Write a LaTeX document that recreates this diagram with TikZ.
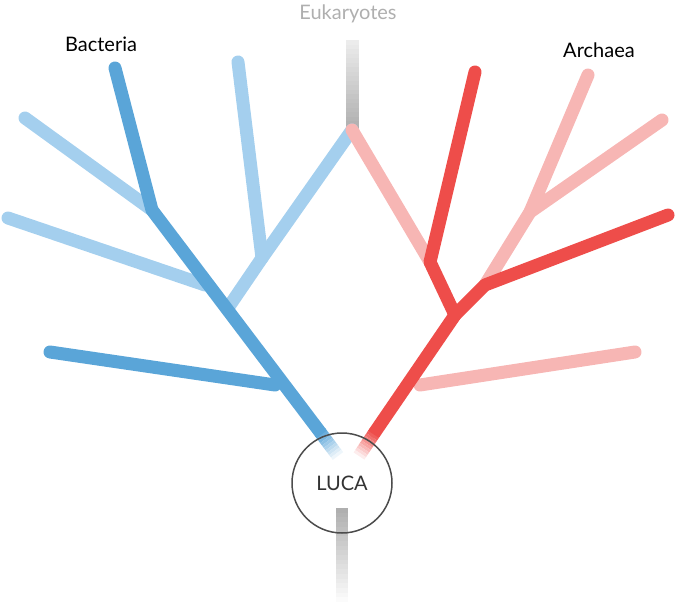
\documentclass[tikz,border=0pt]{standalone}
\usepackage{fontspec}
\setmainfont{Lato}
\begin{document}
\begin{tikzpicture}[x=1pt,y=-1pt,
  br/.style={line width=13pt,line cap=round,line join=round},
  lbl/.style={font=\fontsize{20}{24}\selectfont}]
\useasboundingbox (0,0) rectangle (685,608);
\definecolor{db}{HTML}{5AA5D8}\definecolor{lb}{HTML}{A4CFEE}
\definecolor{dr}{HTML}{EE4D4A}\definecolor{lr}{HTML}{F7B6B4}
\definecolor{gr}{HTML}{AFAFAF}
% eukaryote stem
\foreach \i in {0,...,19}{\pgfmathsetmacro\c{100-4*\i}
  \draw[line width=13pt,gr!\c!white] (352,{130-4.5*\i}) -- (352,{130-4.5*(\i+1)});}
% light blue
\draw[br,lb] (25,118) -- (152,210);
\draw[br,lb] (8,218) -- (205,285);
\draw[br,lb] (230,305) -- (262,258) -- (352,130);
\draw[br,lb] (238,62) -- (262,258);
% light red
\draw[br,lr] (352,130) -- (430,262);
\draw[br,lr] (485,285) -- (530,212) -- (588,75);
\draw[br,lr] (530,212) -- (662,120);
\draw[br,lr] (420,385) -- (635,352);
% dark blue
\draw[br,db] (115,68) -- (152,210) -- (320,432);
\draw[br,db] (50,352) -- (275,385);
% dark red
\draw[br,dr] (475,72) -- (430,262) -- (455,315);
\draw[br,dr] (375,432) -- (455,315) -- (485,285) -- (668,215);
% fades near LUCA
\foreach \i in {0,...,9}{\pgfmathsetmacro\c{100-10*\i}
  \draw[line width=13pt,db!\c!white] ({320+1.8*\i},{432+2.4*\i}) -- ({320+1.8*(\i+1)},{432+2.4*(\i+1)});
  \draw[line width=13pt,dr!\c!white] ({375-1.6*\i},{432+2.4*\i}) -- ({375-1.6*(\i+1)},{432+2.4*(\i+1)});}
% bottom stem
\foreach \i in {0,...,19}{\pgfmathsetmacro\c{100-5*\i}
  \draw[line width=12pt,gr!\c!white] (342,{508+4.7*\i}) -- (342,{508+4.7*(\i+1)});}
\node[circle,draw=black!70,line width=1.5pt,minimum size=100pt,inner sep=0pt,lbl,text=black!80] (luca) at (342,483) {LUCA};
\node[lbl,text=gr] (euk) at (348,14) {Eukaryotes};
\node[lbl] (bac) at (101,44) {Bacteria};
\node[lbl] (arc) at (599,50) {Archaea};
\end{tikzpicture}
\end{document}
